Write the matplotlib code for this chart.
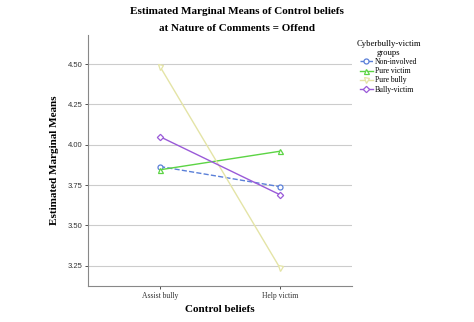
import matplotlib
matplotlib.use("Agg")
import matplotlib.pyplot as plt

categories = ["Assist bully", "Help victim"]
groups = ["Non-involved", "Pure victim", "Pure bully", "Bully-victim"]
non_involved = [3.865, 3.74]
pure_victim = [3.845, 3.96]
pure_bully = [4.485, 3.235]
bully_victim = [4.05, 3.69]

series = [non_involved, pure_victim, pure_bully, bully_victim]
colors = ["#5b80d8", "#5cd444", "#e4e4a6", "#9a5ad8"]
markers = ["o", "^", "v", "D"]
styles = ["--", "-", "-", "-"]

serif = "Liberation Serif"

fig = plt.figure(figsize=(4.74, 3.22), dpi=100)
ax = fig.add_axes([0.1857, 0.1118, 0.557, 0.779])

x = list(range(len(categories)))
for vals, name, c, m, ls in zip(series, groups, colors, markers, styles):
    ax.plot(x, vals, color=c, linestyle=ls, linewidth=1.0, marker=m,
            markersize=3.6 if m != "D" else 3.2, markerfacecolor="white",
            markeredgecolor=c, markeredgewidth=0.9, label=name)

ax.set_xlim(-0.6, 1.6)
ax.set_ylim(3.124, 4.68)
ax.set_yticks([3.25, 3.50, 3.75, 4.00, 4.25, 4.50])
ax.set_yticklabels(["3.25", "3.50", "3.75", "4.00", "4.25", "4.50"],
                   fontsize=5.5, color="#444444", family="Liberation Sans")
ax.set_xticks(x)
ax.set_xticklabels(categories, fontsize=5.5, family=serif)
ax.tick_params(length=2.5, width=0.6, colors="#333333", pad=1.5)
ax.grid(axis="y", color="#cccccc", linewidth=0.8)
ax.set_axisbelow(True)
for s in ["top", "right"]:
    ax.spines[s].set_visible(False)
for s in ["left", "bottom"]:
    ax.spines[s].set_color("#888888")
    ax.spines[s].set_linewidth(0.8)

ax.set_ylabel("Estimated Marginal Means", fontsize=8, fontweight="bold",
              family=serif, labelpad=6)
ax.set_xlabel("Control beliefs", fontsize=8, fontweight="bold",
              family=serif, labelpad=4)

fig.text(0.5, 0.965, "Estimated Marginal Means of Control beliefs",
         ha="center", va="center", fontsize=8, fontweight="bold", family=serif)
fig.text(0.5, 0.913, "at Nature of Comments = Offend",
         ha="center", va="center", fontsize=8, fontweight="bold", family=serif)

leg = ax.legend(loc="upper left", bbox_to_anchor=(1.0, 1.0), frameon=False,
                title="Cyberbully-victim\ngroups",
                prop={"family": serif, "size": 5.5}, title_fontsize=6.2,
                handlelength=1.6, handletextpad=0.3, labelspacing=0.15,
                borderaxespad=0.2)
leg.get_title().set_family(serif)
leg.get_title().set_multialignment("center")

fig.savefig("out.png", dpi=100)
